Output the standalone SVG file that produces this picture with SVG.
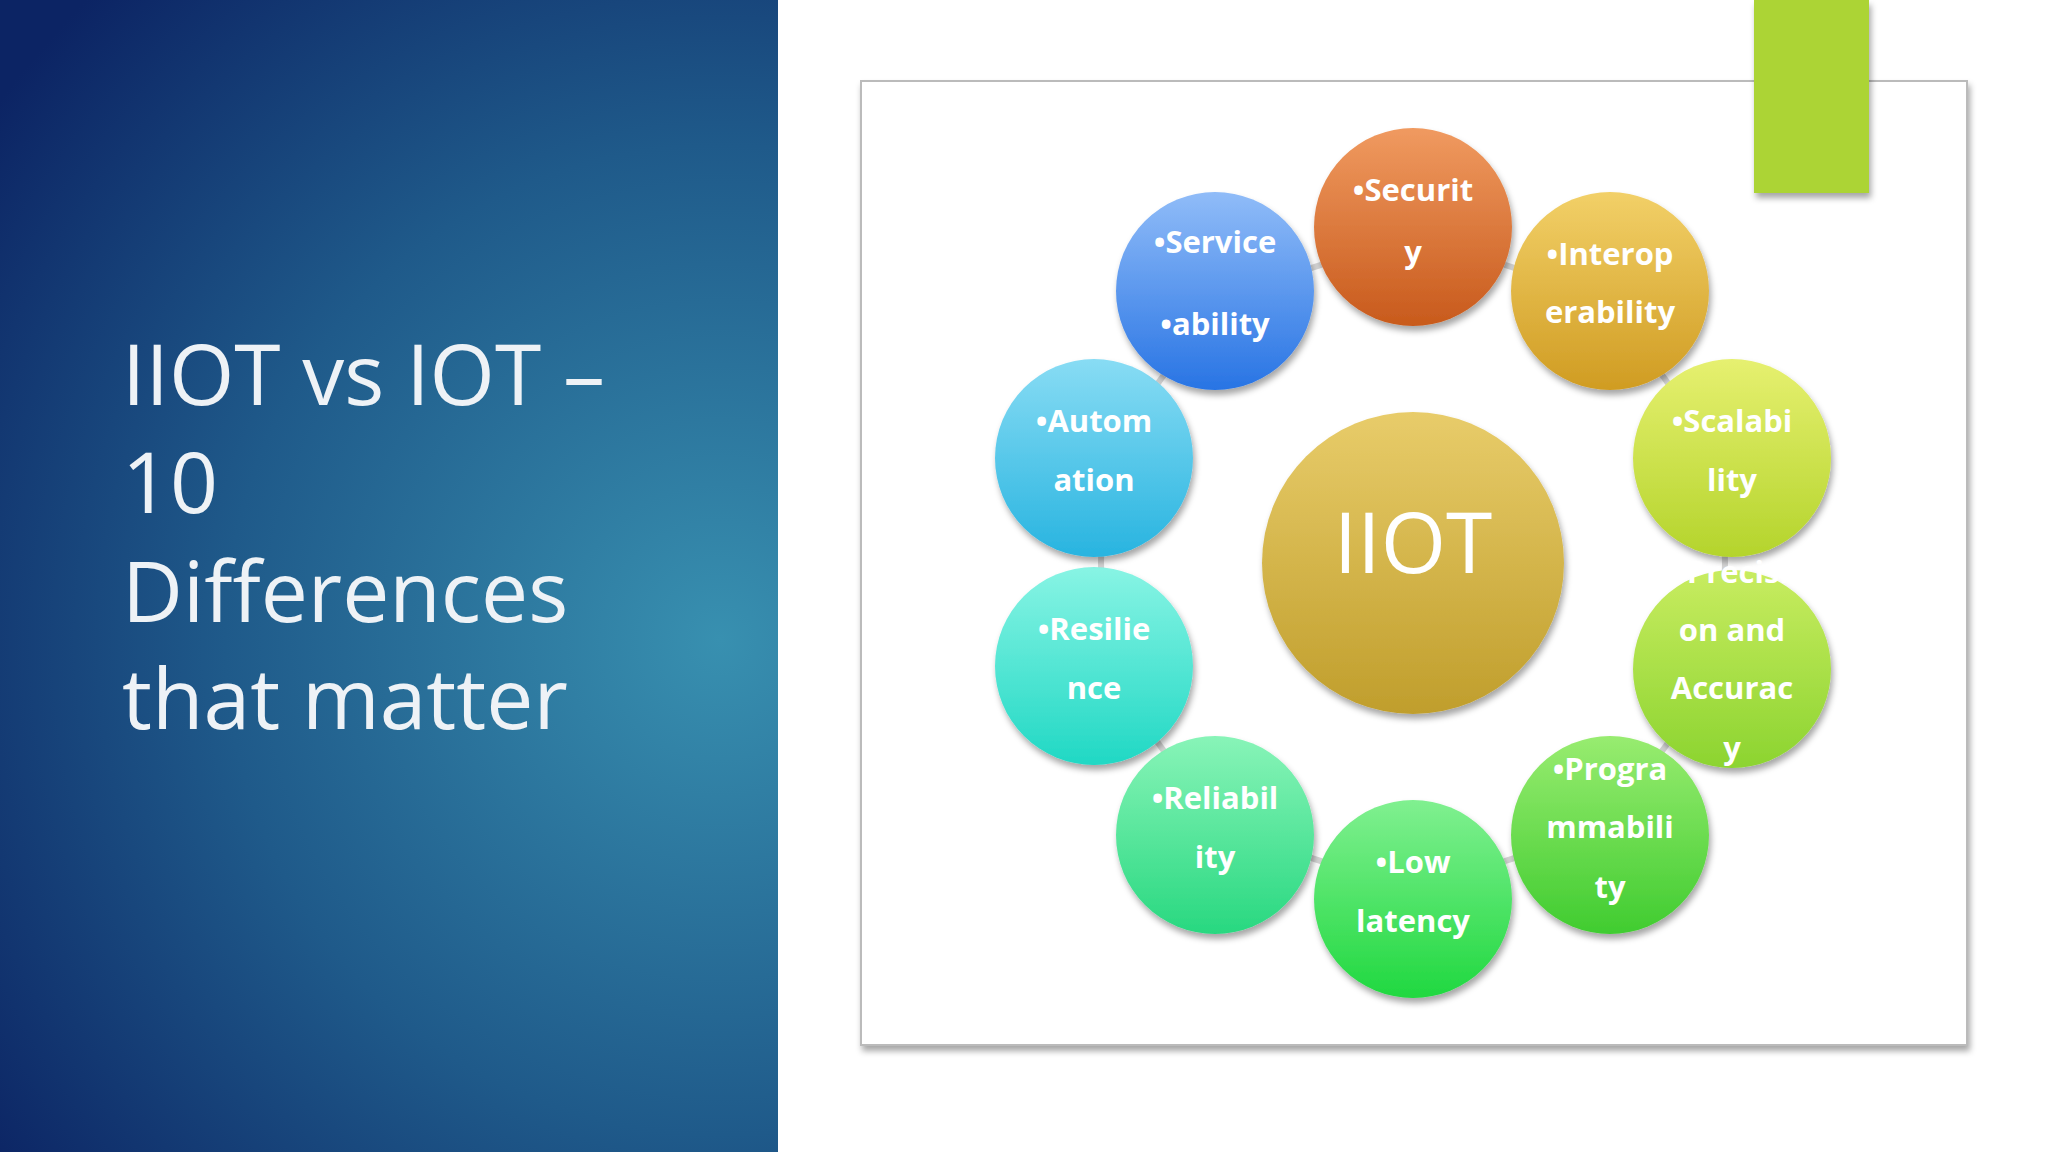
<svg xmlns="http://www.w3.org/2000/svg" width="2048" height="1152" viewBox="0 0 2048 1152">
<defs>
<radialGradient id="bg" cx="720" cy="640" r="900" gradientUnits="userSpaceOnUse">
<stop offset="0" stop-color="#3890b0"/><stop offset="0.55" stop-color="#1f5a8a"/><stop offset="1" stop-color="#0c2464"/>
</radialGradient>
<linearGradient id="gC" x1="0" y1="0" x2="0" y2="1"><stop offset="0" stop-color="#e8cc6a"/><stop offset="1" stop-color="#c09e2c"/></linearGradient>
<linearGradient id="g1" x1="0" y1="0" x2="0" y2="1"><stop offset="0" stop-color="#f09a60"/><stop offset="1" stop-color="#c85a1c"/></linearGradient>
<linearGradient id="g2" x1="0" y1="0" x2="0" y2="1"><stop offset="0" stop-color="#f2d068"/><stop offset="1" stop-color="#d09c22"/></linearGradient>
<linearGradient id="g3" x1="0" y1="0" x2="0" y2="1"><stop offset="0" stop-color="#e6f070"/><stop offset="1" stop-color="#b4d42c"/></linearGradient>
<linearGradient id="g4" x1="0" y1="0" x2="0" y2="1"><stop offset="0" stop-color="#c8ec60"/><stop offset="1" stop-color="#8cd430"/></linearGradient>
<linearGradient id="g5" x1="0" y1="0" x2="0" y2="1"><stop offset="0" stop-color="#98ec70"/><stop offset="1" stop-color="#40cc30"/></linearGradient>
<linearGradient id="g6" x1="0" y1="0" x2="0" y2="1"><stop offset="0" stop-color="#80f090"/><stop offset="1" stop-color="#20d840"/></linearGradient>
<linearGradient id="g7" x1="0" y1="0" x2="0" y2="1"><stop offset="0" stop-color="#88f4b8"/><stop offset="1" stop-color="#28d880"/></linearGradient>
<linearGradient id="g8" x1="0" y1="0" x2="0" y2="1"><stop offset="0" stop-color="#88f4e4"/><stop offset="1" stop-color="#20d8c4"/></linearGradient>
<linearGradient id="g9" x1="0" y1="0" x2="0" y2="1"><stop offset="0" stop-color="#88dcf4"/><stop offset="1" stop-color="#28b4e0"/></linearGradient>
<linearGradient id="g10" x1="0" y1="0" x2="0" y2="1"><stop offset="0" stop-color="#90bcf8"/><stop offset="1" stop-color="#2874e4"/></linearGradient>
<filter id="sh" x="-20%" y="-20%" width="140%" height="140%"><feDropShadow dx="2" dy="5" stdDeviation="3" flood-opacity="0.35"/></filter>
</defs>
<style>
.t{font-family:"Open Sans","Noto Sans",sans-serif;font-weight:bold;font-size:31px;fill:#fff;text-anchor:middle;dominant-baseline:central}
.ti{font-family:"Open Sans","Noto Sans",sans-serif;font-size:84px;fill:#eef2f6}
</style>
<rect width="2048" height="1152" fill="#fff"/>
<rect width="778" height="1152" fill="url(#bg)"/>
<g id="title" class="ti"><text x="122" y="405">IIOT vs IOT –</text><text x="122" y="513">10</text><text x="122" y="622">Differences</text><text x="122" y="729">that matter</text></g>
<rect x="861" y="81" width="1106" height="964" fill="#fff" stroke="#bbb" stroke-width="2" filter="url(#sh)"/>
<rect x="1754" y="0" width="115" height="193" fill="#acd434" filter="url(#sh)"/>
<g id="connectors" stroke="#aaa" stroke-width="6" fill="none" opacity="0.5">
<circle cx="1413" cy="563" r="312"/>
</g>
<g id="center" filter="url(#sh)"><circle cx="1413" cy="563" r="151" fill="url(#gC)"/><text x="1413" y="540" font-family="Open Sans,Noto Sans,sans-serif" font-size="84" fill="#fff" text-anchor="middle" dominant-baseline="central">IIOT</text></g>
<g id="security"><circle cx="1413" cy="227" r="99" fill="url(#g1)" filter="url(#sh)"/><text class="t" x="1413" y="189">•Securit</text><text class="t" x="1413" y="251">y</text></g>
<g id="interop"><circle cx="1610" cy="291" r="99" fill="url(#g2)" filter="url(#sh)"/><text class="t" x="1610" y="253">•Interop</text><text class="t" x="1610" y="311">erability</text></g>
<g id="scalability"><circle cx="1732" cy="458" r="99" fill="url(#g3)" filter="url(#sh)"/><text class="t" x="1732" y="420">•Scalabi</text><text class="t" x="1732" y="479">lity</text></g>
<g id="precision"><circle cx="1732" cy="669" r="99" fill="url(#g4)" filter="url(#sh)"/><text class="t" x="1732" y="571">•Precisi</text><text class="t" x="1732" y="629">on and</text><text class="t" x="1732" y="687">Accurac</text><text class="t" x="1732" y="747">y</text></g>
<g id="programmability"><circle cx="1610" cy="835" r="99" fill="url(#g5)" filter="url(#sh)"/><text class="t" x="1610" y="768">•Progra</text><text class="t" x="1610" y="826">mmabili</text><text class="t" x="1610" y="886">ty</text></g>
<g id="lowlatency"><circle cx="1413" cy="899" r="99" fill="url(#g6)" filter="url(#sh)"/><text class="t" x="1413" y="861">•Low</text><text class="t" x="1413" y="920">latency</text></g>
<g id="reliability"><circle cx="1215" cy="835" r="99" fill="url(#g7)" filter="url(#sh)"/><text class="t" x="1215" y="797">•Reliabil</text><text class="t" x="1215" y="856">ity</text></g>
<g id="resilience"><circle cx="1094" cy="666" r="99" fill="url(#g8)" filter="url(#sh)"/><text class="t" x="1094" y="628">•Resilie</text><text class="t" x="1094" y="687">nce</text></g>
<g id="automation"><circle cx="1094" cy="458" r="99" fill="url(#g9)" filter="url(#sh)"/><text class="t" x="1094" y="420">•Autom</text><text class="t" x="1094" y="479">ation</text></g>
<g id="serviceability"><circle cx="1215" cy="291" r="99" fill="url(#g10)" filter="url(#sh)"/><text class="t" x="1215" y="241">•Service</text><text class="t" x="1215" y="323">•ability</text></g>
</svg>
